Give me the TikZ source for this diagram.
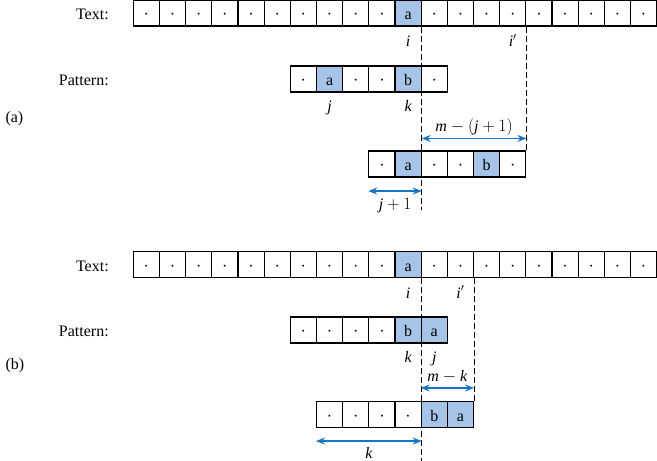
\documentclass[tikz,border=0pt]{standalone}
\usepackage{fontspec}
\setmainfont{Liberation Serif}
\usetikzlibrary{arrows.meta,positioning}

\definecolor{cellblue}{RGB}{166,196,232}
\definecolor{dimblue}{RGB}{22,117,196}

\newcommand\vr[1]{\textit{#1}}
% one row of cells: name, first column, y, contents (. = empty)
\newcommand\cellrow[4]{%
  \foreach \c [count=\n] in {#4} {
    \if\c.\def\cfill{white}\def\ctext{·}\else\def\cfill{cellblue}\let\ctext\c\fi
    \node[cell,fill=\cfill] (#1\n) at ({133.3+(#2+\n-0.5)*26.17},#3) {\ctext};
  }}

\begin{document}
\begin{tikzpicture}[x=1pt,y=-1pt,font=\fontsize{16}{19}\selectfont,
    cell/.style={draw,line width=1.1pt,minimum width=26.17pt,minimum height=26pt,
      inner sep=0pt,text height=13.4pt,text depth=0pt},
    lbl/.style={anchor=base east},
    var/.style={anchor=base},
    cutline/.style={line width=1pt,dash pattern=on 6pt off 3pt},
    dimline/.style={{Stealth[length=9pt,width=7pt]}-{Stealth[length=9pt,width=7pt]},
      draw=dimblue,line width=1.2pt}]
  \useasboundingbox (0,0) rectangle (657,461);

  % (a)
  \cellrow{ta}{0}{13}{.,.,.,.,.,.,.,.,.,.,a,.,.,.,.,.,.,.,.,.}
  \cellrow{pa}{6}{79}{.,a,.,.,b,.}
  \cellrow{sa}{9}{164}{.,a,.,.,b,.}

  \node[left=20.5pt of ta1.base west,lbl] (txa) {Text:};
  \node[lbl] (pta) at (txa.base east |- pa1.base) {Pattern:};
  \node[anchor=base west] (la) at (2,122.3) {(a)};

  \node[var] (ia) at ([yshift=-20pt]ta11.south) {$\vr{i}$};
  \node[var] (ipa) at ([yshift=-20pt]ta15.south) {$\vr{i}'$};
  \node[var] (ja) at ([yshift=-19pt]pa2.south) {$\vr{j}$};
  \node[var] (ka) at ([yshift=-19pt]pa5.south) {$\vr{k}$};

  \coordinate (enda) at (ta11.south east |- 0,210);
  \draw[cutline] (ta11.south east) -- (enda);
  \draw[cutline] (ta15.south east) -- (sa6.north east);

  \draw[dimline] ([yshift=12pt]sa2.north east) -- ([yshift=12pt]sa6.north east)
    node[midway,var,yshift=6.5pt] {$\vr{m}-(\vr{j}+1)$};
  \draw[dimline] ([yshift=-13.5pt]sa1.south west) -- ([yshift=-13.5pt]sa2.south east)
    node[midway,var,yshift=-18.5pt] {$\vr{j}+1$};

  % (b)
  \cellrow{tb}{0}{264.5}{.,.,.,.,.,.,.,.,.,.,a,.,.,.,.,.,.,.,.,.}
  \cellrow{pb}{6}{330}{.,.,.,.,b,a}
  \cellrow{sb}{7}{414.5}{.,.,.,.,b,a}

  \node[left=20.5pt of tb1.base west,lbl] (txb) {Text:};
  \node[lbl] (ptb) at (txb.base east |- pb1.base) {Pattern:};
  \node[anchor=base west] (lb) at (2,369) {(b)};

  \node[var] (ib) at ([yshift=-20pt]tb11.south) {$\vr{i}$};
  \node[var] (ipb) at ([yshift=-20pt]tb13.south) {$\vr{i}'$};
  \node[var] (kb) at ([yshift=-19pt]pb5.south) {$\vr{k}$};
  \node[var] (jb) at ([yshift=-19pt]pb6.south) {$\vr{j}$};

  \coordinate (endb) at (tb11.south east |- 0,461);
  \draw[cutline] (tb11.south east) -- (endb);
  \draw[cutline] (tb13.south east) -- (sb6.north east);

  \draw[dimline] ([yshift=13pt]sb5.north west) -- ([yshift=13pt]sb6.north east)
    node[midway,var,yshift=6.5pt] {$\vr{m}-\vr{k}$};
  \draw[dimline] ([yshift=-13pt]sb1.south west) -- ([yshift=-13pt]sb4.south east)
    node[midway,var,yshift=-17pt] {$\vr{k}$};
\end{tikzpicture}
\end{document}
